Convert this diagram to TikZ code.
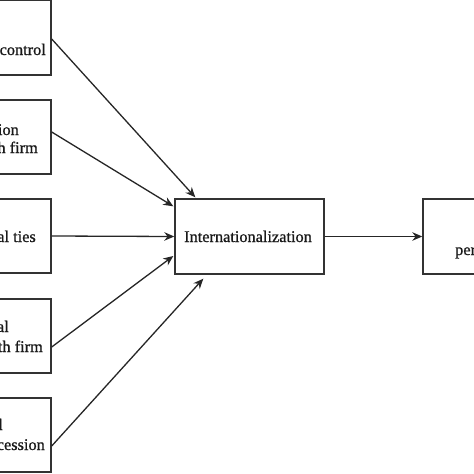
\documentclass[tikz,border=0pt]{standalone}
\usepackage{fontspec}
\setmainfont{Liberation Serif}[FakeBold=0.8]
\usetikzlibrary{arrows.meta}
\begin{document}
\begin{tikzpicture}[x=1pt,y=-1pt,
  box/.style={draw=black!80,line width=1.4pt,minimum width=151pt,minimum height=75pt,inner sep=0pt},
  txt/.style={inner sep=0pt,text=black!90,font=\fontsize{16.3}{19}\selectfont},
  lbl/.style={txt,anchor=base east},
  arr/.style={draw=black!85,line width=1.3pt,-{Stealth[length=10pt,width=8.5pt]}}]
\useasboundingbox (0,0) rectangle (474,474);
\fill[white] (0,0) rectangle (474,474);
\clip (0,0) rectangle (474,474);
% left boxes
\node[box] (b1) at (-24.5,37.5) {};
\node[box,minimum height=74pt] (b2) at (-24.5,137) {};
\node[box,minimum height=74pt] (b3) at (-24.5,236) {};
\node[box,minimum height=74pt] (b4) at (-24.5,336) {};
\node[box,minimum height=74pt] (b5) at (-24.5,435) {};
% centre and right boxes
\node[box,minimum width=149pt] (c) at (249.5,236.5) {};
\node[box,minimum width=177pt] (r) at (511.5,236.5) {};
% visible text fragments
\node[lbl] (t1) at (46,55) {control};
\node[lbl] (t2a) at (19,135) {ion};
\node[lbl] (t2b) at (38,153) {h firm};
\node[lbl] (t3) at (36,242) {al ties};
\node[lbl] (t4a) at (9,332) {al};
\node[lbl] (t4b) at (43,352) {th firm};
\node[lbl] (t5a) at (3,430) {l};
\node[lbl] (t5b) at (45,450) {cession};
\node[txt,anchor=base] (tc) at (248,242) {Internationalization};
\node[txt,anchor=base west] (tr) at (455,255) {per};
% connectors
\draw[arr] ([yshift=-1.5pt]b1.east) -- ([xshift=21pt,yshift=1pt]c.north west);
\draw[arr] ([yshift=5pt]b2.east) -- ([xshift=-1pt,yshift=-8pt]c.north west);
\draw[arr] (b3.east) -- (c.west);
\draw[arr] ([yshift=-11pt]b4.east) -- ([xshift=-1pt,yshift=-19.5pt]c.west);
\draw[arr] ([yshift=-11pt]b5.east) -- ([xshift=29pt,yshift=-4pt]c.south west);
\draw[arr] (c.east) -- (r.west);
\end{tikzpicture}
\end{document}
